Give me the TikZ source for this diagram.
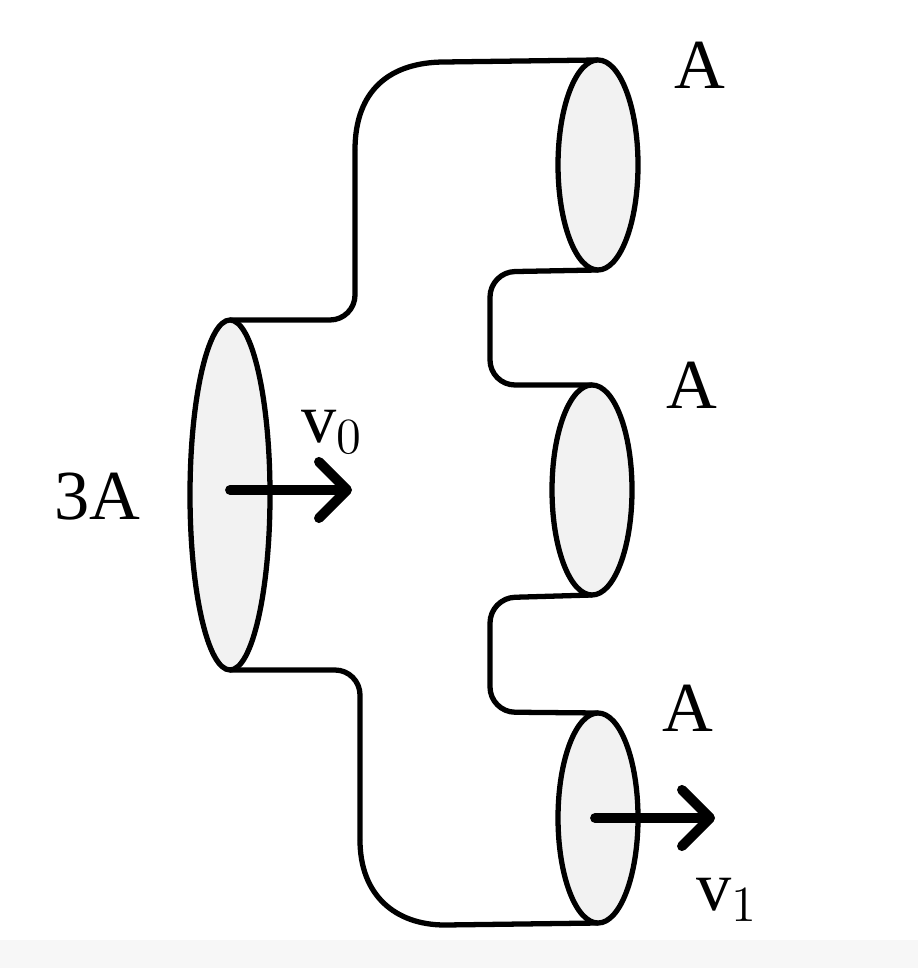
\documentclass[tikz,border=0pt]{standalone}
\usepackage{fontspec}
\setmainfont{Liberation Serif}
\usetikzlibrary{arrows.meta}
\begin{document}
\begin{tikzpicture}[x=0.01cm,y=-0.01cm,
  outl/.style={line width=1.5pt,line join=round},
  disc/.style={outl,fill=black!5},
  flow/.style={line width=2.8pt,line cap=round,-{Straight Barb[length=8pt,width=16pt,line width=2.8pt,round]}},
  lab/.style={font=\fontsize{20}{22}\selectfont,inner sep=0pt}]
\useasboundingbox (0,0) rectangle (918,968);
\fill[black!3] (0,940) rectangle (918,968);
% body outline
\draw[outl,rounded corners=0.25cm] (230,320) -- (355,320) -- (355,150);
\draw[outl] (355,150) .. controls (355,90) and (390,62) .. (445,62) -- (598,60);
\draw[outl,rounded corners=0.25cm] (598,270) -- (490,272) -- (490,385) -- (592,385);
\draw[outl,rounded corners=0.25cm] (592,595) -- (490,598) -- (490,712) -- (598,713);
\draw[outl,rounded corners=0.25cm] (230,670) -- (360,670) -- (360,840);
\draw[outl] (360,840) .. controls (360,895) and (395,925) .. (445,925) -- (598,923);
% discs
\draw[disc] (230,495) ellipse [x radius=40,y radius=175];
\draw[disc] (598,165) ellipse [x radius=40,y radius=105];
\draw[disc] (592,490) ellipse [x radius=40,y radius=105];
\draw[disc] (598,818) ellipse [x radius=40,y radius=105];
\coordinate (a0) at (230,490); \coordinate (b0) at (352,490);
\coordinate (a1) at (595,818); \coordinate (b1) at (715,818);
\draw[flow] (a0) -- (b0);
\draw[flow] (a1) -- (b1);
\node[lab] (t1) at (700,65) {A};
\node[lab] (t2) at (692,385) {A};
\node[lab] (t3) at (688,708) {A};
\node[lab] (t0) at (97,497) {3A};
\node[lab] (v0) at (332,432) {v$_0$};
\node[lab] (v1) at (727,900) {v$_1$};
\end{tikzpicture}
\end{document}
